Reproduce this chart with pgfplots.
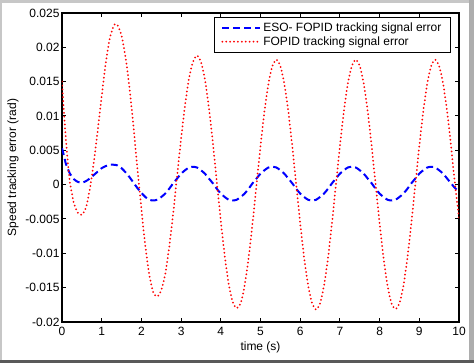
\documentclass[border=0pt]{standalone}
\usepackage{fontspec}
\setmainfont{Liberation Sans}
\usepackage{pgfplots}
\usepackage{pgfplotstable}
\pgfplotsset{compat=1.18}

\pgfplotstableread{
t e
0.00 0.0053
0.05 0.0042
0.10 0.0030
0.20 0.0016
0.30 0.0008
0.40 0.0004
0.50 0.0003
0.60 0.0005
0.70 0.0009
0.80 0.0014
0.90 0.0019
1.00 0.0024
1.10 0.0027
1.20 0.0029
1.30 0.0029
1.40 0.0028
1.50 0.0024
1.60 0.0018
1.70 0.0011
1.80 0.0003
1.90 -0.0005
2.00 -0.0012
2.10 -0.0018
2.20 -0.0022
2.30 -0.0023
2.40 -0.0022
2.50 -0.0018
2.60 -0.0013
2.70 -0.0006
2.80 0.0002
2.90 0.0009
3.00 0.0016
3.10 0.0021
3.20 0.0025
3.30 0.0026
3.40 0.0025
3.50 0.0021
3.60 0.0016
3.70 0.0009
3.80 0.0002
3.90 -0.0006
4.00 -0.0013
4.10 -0.0018
4.20 -0.0022
4.30 -0.0023
4.40 -0.0022
4.50 -0.0018
4.60 -0.0013
4.70 -0.0006
4.80 0.0002
4.90 0.0009
5.00 0.0016
5.10 0.0021
5.20 0.0025
5.30 0.0026
5.40 0.0025
5.50 0.0021
5.60 0.0016
5.70 0.0009
5.80 0.0002
5.90 -0.0006
6.00 -0.0013
6.10 -0.0018
6.20 -0.0022
6.30 -0.0023
6.40 -0.0022
6.50 -0.0018
6.60 -0.0013
6.70 -0.0006
6.80 0.0002
6.90 0.0009
7.00 0.0016
7.10 0.0021
7.20 0.0025
7.30 0.0026
7.40 0.0025
7.50 0.0021
7.60 0.0016
7.70 0.0009
7.80 0.0002
7.90 -0.0006
8.00 -0.0013
8.10 -0.0018
8.20 -0.0022
8.30 -0.0023
8.40 -0.0022
8.50 -0.0018
8.60 -0.0013
8.70 -0.0006
8.80 0.0002
8.90 0.0009
9.00 0.0016
9.10 0.0021
9.20 0.0025
9.30 0.0026
9.40 0.0025
9.50 0.0021
9.60 0.0016
9.70 0.0009
9.80 0.0002
9.90 -0.0005
10.00 -0.0010
}\esotable

\pgfplotstableread{
t e
0.00 0.0150
0.05 0.0105
0.10 0.0065
0.15 0.0030
0.20 0.0003
0.30 -0.0027
0.40 -0.0041
0.50 -0.0044
0.60 -0.0034
0.70 -0.0007
0.80 0.0032
0.90 0.0079
1.00 0.0129
1.10 0.0176
1.20 0.0212
1.30 0.0231
1.35 0.0234
1.40 0.0232
1.50 0.0217
1.60 0.0186
1.70 0.0141
1.80 0.0085
1.90 0.0024
2.00 -0.0036
2.10 -0.0090
2.20 -0.0132
2.30 -0.0157
2.40 -0.0163
2.50 -0.0154
2.60 -0.0130
2.70 -0.0091
2.80 -0.0042
2.90 0.0013
3.00 0.0067
3.10 0.0116
3.20 0.0155
3.30 0.0179
3.40 0.0188
3.50 0.0179
3.60 0.0153
3.70 0.0112
3.80 0.0061
3.90 0.0004
4.00 -0.0053
4.10 -0.0104
4.20 -0.0145
4.30 -0.0171
4.40 -0.0180
4.50 -0.0173
4.60 -0.0147
4.70 -0.0107
4.80 -0.0056
4.90 0.0000
5.00 0.0056
5.10 0.0107
5.20 0.0147
5.30 0.0173
5.40 0.0182
5.50 0.0173
5.60 0.0147
5.70 0.0107
5.80 0.0056
5.90 0.0000
6.00 -0.0056
6.10 -0.0107
6.20 -0.0147
6.30 -0.0173
6.40 -0.0182
6.50 -0.0173
6.60 -0.0147
6.70 -0.0107
6.80 -0.0056
6.90 0.0000
7.00 0.0056
7.10 0.0107
7.20 0.0147
7.30 0.0173
7.40 0.0182
7.50 0.0173
7.60 0.0147
7.70 0.0107
7.80 0.0056
7.90 0.0000
8.00 -0.0056
8.10 -0.0107
8.20 -0.0147
8.30 -0.0173
8.40 -0.0181
8.50 -0.0173
8.60 -0.0147
8.70 -0.0107
8.80 -0.0056
8.90 0.0000
9.00 0.0056
9.10 0.0107
9.20 0.0147
9.30 0.0173
9.40 0.0182
9.50 0.0173
9.60 0.0147
9.70 0.0107
9.80 0.0056
9.90 0.0000
10.00 -0.0048
}\fopidtable

\begin{document}
\begin{tikzpicture}[font=\fontsize{12}{14}\selectfont]
% frame background
\fill[black!22] (-62pt,-41pt) rectangle (412pt,322pt);
\fill[white] (-60pt,-38pt) rectangle (407pt,319pt);
\fill[black!65] (-62pt,-41pt) rectangle (412pt,-38pt);
\fill[black!32] (407pt,-38pt) rectangle (412pt,322pt);
\begin{axis}[
  at={(0pt,0pt)}, anchor=south west,
  scale only axis,
  width=397pt, height=309pt,
  xmin=0, xmax=10, ymin=-0.02, ymax=0.025,
  axis line style={line width=1.2pt},
  every tick/.style={black, line width=1pt},
  tick align=inside,
  major tick length=4pt,
  xtick={0,1,...,10},
  xticklabels={0,1,2,3,4,5,6,7,8,9,10},
  ytick={-0.02,-0.015,-0.01,-0.005,0,0.005,0.01,0.015,0.02,0.025},
  yticklabels={-0.02,-0.015,-0.01,-0.005,0,0.005,0.01,0.015,0.02,0.025},
  scaled y ticks=false,
  xticklabel style={yshift=-2pt},
  yticklabel style={xshift=1pt},
  xlabel={time (s)},
  ylabel={Speed tracking error (rad)},
  xlabel style={at={(axis description cs:0.5,0)}, anchor=center, yshift=-25.5pt},
  ylabel style={at={(axis description cs:-0.1234,0.5)}, anchor=center},
  legend image code/.code={\draw[#1] (0pt,0pt) -- (38pt,0pt);},
  legend style={at={(rel axis cs:0.9798,0.98706)}, anchor=north east,
    draw=black, line width=1.2pt, inner xsep=7pt, inner ysep=4pt,
    nodes={inner xsep=2pt, inner ysep=1.6pt},
    font=\fontsize{12}{14}\selectfont,
    cells={anchor=west}},
]
\addplot[blue, line width=2pt, dash pattern=on 7pt off 4pt, smooth, tension=0.4] table[x=t,y=e] {\esotable};
\addlegendentry{ESO- FOPID tracking signal error}
\addplot[red, line width=2pt, line cap=round, dash pattern=on 0pt off 3.9pt, smooth, tension=0.4] table[x=t,y=e] {\fopidtable};
\addlegendentry{FOPID tracking signal error}
\end{axis}
\pgfresetboundingbox
\useasboundingbox (-62pt,-41pt) rectangle (412pt,322pt);
\end{tikzpicture}
\end{document}
